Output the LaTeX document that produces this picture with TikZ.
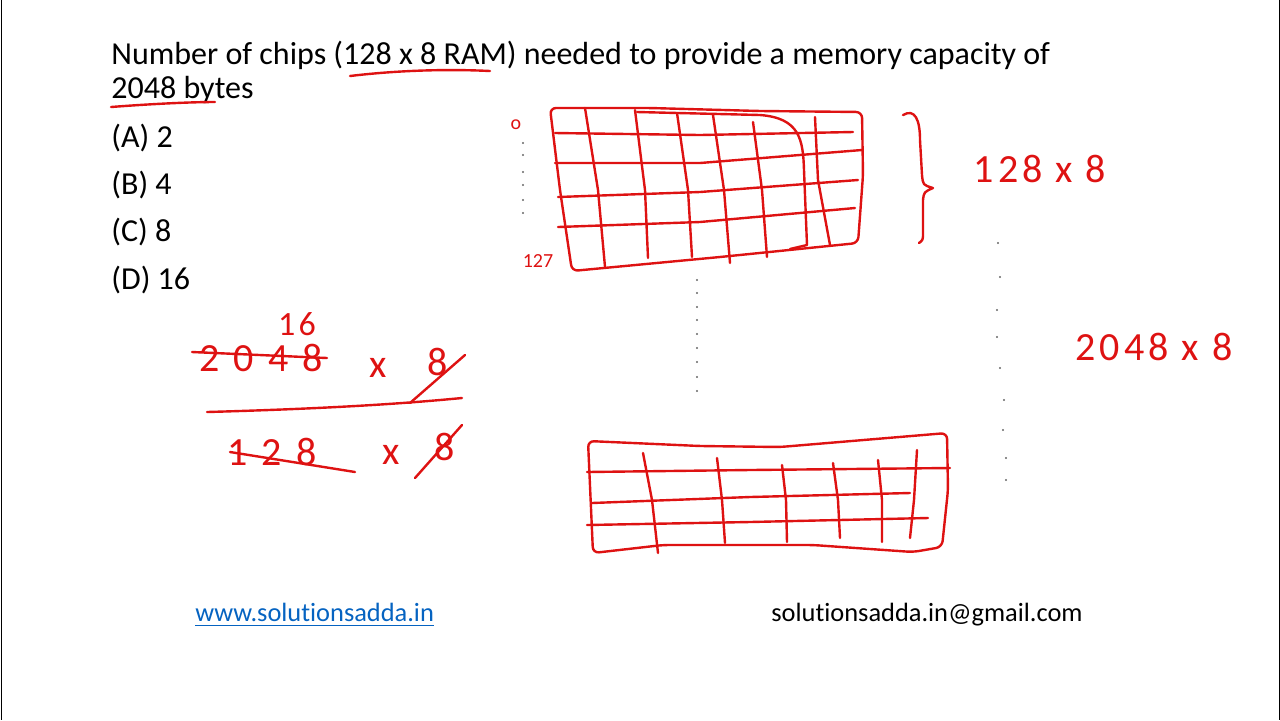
\documentclass[tikz,border=0pt]{standalone}
\usepackage{fontspec}
\setmainfont{Carlito}[Ligatures=NoCommon]
\newfontfamily\handfont[LetterSpace=10]{Carlito}
\newfontfamily\widehand[LetterSpace=35]{Carlito}
\usetikzlibrary{positioning}
\definecolor{ink}{RGB}{222,18,18}
\definecolor{linkblue}{RGB}{5,99,193}

\begin{document}
\begin{tikzpicture}[x=0.5pt, y=-0.5pt,
		slide/.style={anchor=base west, inner sep=0pt, font=\fontsize{16}{19}\selectfont},
		footer/.style={anchor=base west, inner sep=0pt, font=\fontsize{13.2}{16}\selectfont},
		pen/.style={draw=ink, line width=1.2pt, line cap=round, line join=round},
		hand/.style={text=ink, inner sep=0pt, font=\handfont\fontsize{20}{22}\selectfont},
		widehand/.style={text=ink, inner sep=0pt, font=\widehand\fontsize{20}{22}\selectfont},
		small/.style={text=ink, inner sep=0pt, font=\fontsize{10}{11}\selectfont},
		]
		
		\useasboundingbox (0,0) rectangle (1280,720);
		\draw[line width=0.5pt] (1,0) -- (1,720) (1279,0) -- (1279,720);
		
		% question
		\node[slide] (q1) at (111,64) {Number of chips (128 x 8 RAM) needed to provide a memory capacity of};
		\node[slide] (q2) at (111,98) {2048 bytes};
		\node[slide] (optA) at (111,147) {(A) 2};
		\node[slide] (optB) at (111,194) {(B) 4};
		\node[slide] (optC) at (111,241) {(C) 8};
		\node[slide] (optD) at (111,289) {(D) 16};
		\draw[pen] (350,76) .. controls (400,70) and (450,69) .. (490,71);
		\draw[pen] (111,107) .. controls (150,104) and (190,102) .. (215,102);
		
		% one chip 128 x 8
		\draw[pen, rounded corners=3pt] (550,108) -- (650,108) -- (760,111) -- (862,112)
			-- (863,175) -- (858,243) -- (720,257) -- (572,271) -- (560,190) -- cycle;
		\draw[pen] (637,112) -- (760,115) .. controls (800,118) and (803,140) .. (804,170)
			-- (807,245) -- (790,249);
		\draw[pen] (555,133) -- (700,135) -- (853,132);
		\draw[pen] (555,163) -- (700,163) -- (862,150);
		\draw[pen] (558,197) -- (700,192) -- (858,180);
		\draw[pen] (558,227) -- (700,222) -- (855,208);
		\draw[pen] (585,108) -- (598,190) -- (605,267);
		\draw[pen] (635,110) -- (645,190) -- (648,258);
		\draw[pen] (677,113) -- (688,190) -- (692,257);
		\draw[pen] (713,115) -- (724,190) -- (730,263);
		\draw[pen] (753,122) -- (762,190) -- (767,257);
		\draw[pen] (815,117) -- (818,180) -- (830,245);
		\node[small] (row0) at (516,125) {o};
		\node[small] (row127) at (538,261) {127};
		\foreach \y in {143,155,172,185,200,213}
			\fill[black!60] (523,\y) circle (0.6pt);
		
		% brace and size
		\draw[pen] (903,115) .. controls (915,108) and (920,120) .. (920,140) -- (922,175)
			.. controls (923,185) .. (933,188) .. controls (924,192) .. (923,200)
			-- (923,232) .. controls (923,240) .. (919,243);
		\node[hand] (chipsize) at (1040,169) {128 x 8};
		
		% dotted guides
		\foreach \y in {280,293,307,320,334,348,362,377,391}
			\fill[black!60] (697,\y) circle (0.6pt);
		\foreach \x/\y in {998/243,1000/277,997/310,997/337,1000/368,1004/400,1003/430,1006/458,1006/480}
			\fill[black!60] (\x,\y) circle (0.6pt);
		\node[hand] (memsize) at (1154,347) {2048 x 8};
		
		% whole memory
		\draw[pen, rounded corners=3pt] (588,441) -- (700,446) -- (780,447) -- (947,433)
			-- (948,490) -- (942,547) -- (913,552) -- (813,545) -- (663,545) -- (593,553) -- cycle;
		\draw[pen] (587,472) -- (750,470) -- (950,468);
		\draw[pen] (592,503) -- (750,497) -- (910,493);
		\draw[pen] (587,525) -- (750,522) -- (928,518);
		\draw[pen] (643,453) -- (652,500) -- (658,553);
		\draw[pen] (717,458) -- (722,500) -- (725,543);
		\draw[pen] (782,465) -- (786,500) -- (787,542);
		\draw[pen] (833,463) -- (838,500) -- (840,538);
		\draw[pen] (878,460) -- (882,500) -- (882,542);
		\draw[pen] (917,450) -- (914,500) -- (910,538);
		
		% working
		\node[hand, font=\handfont\fontsize{17}{19}\selectfont] (sixteen) at (297,324) {16};
		\node[widehand] (num) at (261,358) {2048};
		\node[hand] (numx) at (378,368) {x};
		\node[hand] (num8) at (438,362) {8};
		\node[widehand] (den) at (272,452) {128};
		\node[hand] (denx) at (391,455) {x};
		\node[hand] (den8) at (445,447) {8};
		\draw[pen] (192,352) -- (327,358);
		\draw[pen] (207,412) .. controls (350,408) and (420,402) .. (462,398);
		\draw[pen] (410,403) -- (465,355);
		\draw[pen] (230,452) -- (355,472);
		\draw[pen] (462,425) -- (415,478);
		
		% footer
		\node[footer, text=linkblue] (link) at (195,621) {www.solutionsadda.in};
		\draw[linkblue, line width=0.7pt] ([yshift=-2.2pt]link.base west) -- ([yshift=-2.2pt]link.base east);
		\node[footer] (mail) at (771,621) {solutionsadda.in@gmail.com};
		
	\end{tikzpicture}
\end{document}
